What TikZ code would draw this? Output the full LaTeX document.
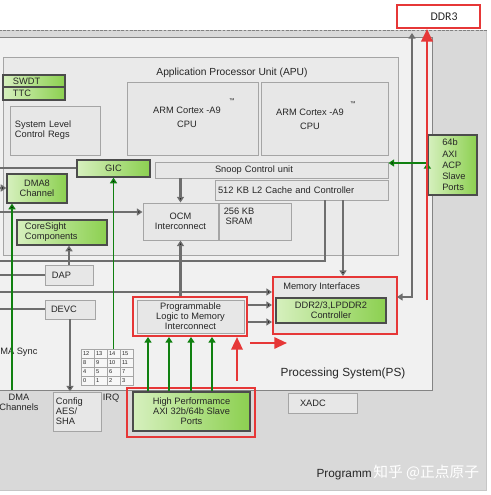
\documentclass[tikz,border=0pt]{standalone}
\usepackage{fontspec}
\setmainfont{Liberation Sans}
\newfontfamily\calfont{Carlito}
\newfontfamily\cjkfont{Noto Sans CJK SC}
\usetikzlibrary{arrows.meta, shadows}

\definecolor{plgray}{RGB}{217,217,217}
\definecolor{psgray}{RGB}{241,241,241}
\definecolor{apugray}{RGB}{234,234,234}
\definecolor{boxgray}{RGB}{231,231,231}
\definecolor{edgegray}{RGB}{165,165,165}
\definecolor{wiregray}{RGB}{110,110,110}
\definecolor{lightgreen}{RGB}{214,240,190}
\definecolor{midgreen}{RGB}{140,208,80}
\definecolor{wiregreen}{RGB}{16,128,16}
\definecolor{hired}{RGB}{230,55,55}

\begin{document}
\begin{tikzpicture}[
    x=0.025cm, y=-0.025cm,
    font=\fontsize{6.6}{7}\selectfont,
    every node/.style={inner sep=0pt, text=black!85},
    >={Triangle[length=4pt, width=5pt]},
    boxsize/.style 2 args={minimum width=#1*0.025cm, minimum height=#2*0.025cm},
    textindent/.style 2 args={text width=#1*0.025cm, inner xsep=#2*0.025cm, align=left},
    graybox/.style={draw=edgegray, fill=boxgray, line width=0.7pt,
        drop shadow={shadow xshift=0.7pt, shadow yshift=-0.7pt, opacity=0.3, fill=black!60}},
    greenbox/.style={draw=black!70, left color=lightgreen, right color=midgreen, line width=0.9pt},
    redframe/.style={draw=hired, line width=1.4pt},
    irqcell/.style={draw=edgegray, fill=white!94!gray, line width=0.4pt, boxsize={13}{9},
        textindent={9}{2}, font=\fontsize{4}{4}\selectfont},
    wire/.style={draw=wiregray, line width=1.5pt},
    gwire/.style={draw=wiregreen, line width=1.4pt},
    redarrow/.style={draw=hired, line width=#1, -{Triangle[length=9pt, width=8pt]}},
]

\useasboundingbox (0,0) rectangle (491,495);
\clip (0,0) rectangle (491,495);
\fill[white] (0,0) rectangle (491,495);

\node[draw=gray!45, fill=plgray, boxsize={487}{460}, anchor=north west] (pl) at (-1,30) {};
\draw[gray, dash pattern=on 2pt off 1pt] (pl.north west) -- (pl.north east);
\node[draw=edgegray!80!black, fill=psgray, line width=0.8pt, boxsize={436}{353}, anchor=north west] (ps) at (-4,37) {};
\node[draw=edgegray, fill=apugray, line width=0.7pt, boxsize={395}{198}, anchor=north west] (apu) at (3,57) {};

\node (aputitle) at (232,73) {\fontsize{7.3}{8}\selectfont Application Processor Unit (APU)};
\node (pstitle) at (343,373) {\fontsize{8.4}{9}\selectfont Processing System(PS)};
\node[anchor=east] (pltitle) at (372,475) {\fontsize{8.4}{9}\selectfont Programm};
\node[draw=hired, line width=1.3pt, fill=white, boxsize={83}{23}] (ddr3) at (438.5,16.5) {\calfont\fontsize{8.4}{9}\selectfont\hspace{8pt}DDR3};

\node[greenbox, boxsize={62}{12}, textindent={42}{10}] (swdt) at (34,81) {SWDT};
\node[greenbox, boxsize={62}{13}, textindent={42}{10}] (ttc) at (34,93.5) {TTC};
\node[graybox, boxsize={90}{49}, textindent={80}{5}] (slcr) at (55,130.5) {System Level\\Control Regs};
\node[graybox, boxsize={131}{73}] (cpu0) at (192.5,118.5) {};
\node[graybox, boxsize={127}{73}] (cpu1) at (324.5,118.5) {};
\node[align=center, font=\fontsize{6.6}{10}\selectfont] (cpu0txt) at (187,117) {ARM Cortex -A9\\CPU};
\node[font=\fontsize{4}{4}\selectfont] (tm0) at (232,101) {™};
\node[align=center, font=\fontsize{6.6}{10}\selectfont] (cpu1txt) at (310,119) {ARM Cortex -A9\\CPU};
\node[font=\fontsize{4}{4}\selectfont] (tm1) at (353,104) {™};
\node[greenbox, boxsize={73}{17}] (gic) at (113.5,168.5) {GIC};
\node[graybox, boxsize={233}{16}, textindent={113}{60}] (scu) at (271.5,170) {Snoop Control unit};
\node[graybox, boxsize={173}{20}, textindent={167}{3}] (l2) at (301.5,190) {512 KB L2 Cache and Controller};
\node[graybox, boxsize={75}{37}, align=center] (ocm) at (180.5,221.5) {OCM\\Interconnect};
\node[graybox, boxsize={72}{37}] (sram) at (255,221.5) {};
\node[align=center] (sramtxt) at (239,216) {256 KB\\SRAM};
\node[greenbox, boxsize={60}{29}, align=center] (dma8) at (37,188.5) {DMA8\\Channel};
\node[greenbox, boxsize={90}{25}, textindent={74}{8}] (coresight) at (62,232.5) {CoreSight\\Components};
\node[graybox, boxsize={48}{20}, textindent={34}{7}] (dap) at (69,275) {DAP};
\node[graybox, boxsize={50}{19}, textindent={38}{6}] (devc) at (70,309.5) {DEVC};
\node[graybox, boxsize={48}{39}, textindent={42}{3}] (config) at (77,411.5) {Config\\AES/\\SHA};
\node[redframe, boxsize={128}{49}] (hpframe) at (191,412.5) {};
\node[greenbox, boxsize={117}{39}, align=center] (hp) at (191.5,411.5) {High Performamce\\AXI 32b/64b Slave\\Ports};
\node[redframe, fill=psgray, boxsize={114}{39}] (pl2memf) at (190,316.5) {};
\node[graybox, boxsize={107}{33}, align=center] (pl2mem) at (190.5,316.5) {Programmable\\Logic to Memory\\Interconnect};
\node[redframe, fill=boxgray, boxsize={124}{57}] (memif) at (335,305.5) {};
\node[anchor=west] (memiftxt) at (283,287) {Memory Interfaces};
\node[greenbox, boxsize={110}{25}, align=center] (ddrc) at (331,310.5) {DDR2/3,LPDDR2\\Controller};
\node[greenbox, boxsize={49}{60}] (acp) at (452.5,165) {};
\node[anchor=west, align=left, font=\fontsize{6.6}{8}\selectfont] (acptxt) at (442,165) {64b\\AXI\\ACP\\Slave\\Ports};
\node[graybox, boxsize={69}{20}, textindent={45}{12}] (xadc) at (322.5,403) {XADC};

\node[anchor=west] (dmasync) at (0,352) {MA Sync};
\node[align=center] (dmach) at (19,402) {DMA\\Channels};
\node (irqtxt) at (111,398) {IRQ};

\foreach \n in {0,...,15} {
    \pgfmathtruncatemacro{\cc}{mod(\n,4)}
    \pgfmathtruncatemacro{\rr}{3-div(\n,4)}
    \node[irqcell] (irq\n) at ({87.5+13*\cc}, {353.5+9*\rr}) {\n};
}

\coordinate (gicin) at (0,168);
\coordinate (dmain) at (0,188);
\coordinate (ocmin) at (0,212);
\coordinate (cibus) at (0,261);
\coordinate (dapin) at (0,275);
\coordinate (membus) at (0,292);
\coordinate (devcin) at (0,309);
\coordinate (l2left) at (325,200);
\coordinate (l2right) at (343,200);
\coordinate (ddrbus) at (412,33);
\coordinate (memright) at (397,297);
\coordinate (dmasrc) at (12,390);

\path[wire]
    (gicin) edge (gicin -| gic.west)
    (dmain) edge[->] (dmain -| dma8.west)
    (ocmin) edge[->] (ocmin -| ocm.west)
    (ocm.north |- scu.south) edge[->] (ocm.north)
    (dapin) edge (dapin -| dap.west)
    (dap.north) edge[->] (dap.north |- coresight.south)
    (membus) edge[->] (membus -| memif.west)
    (devcin) edge (devcin -| devc.west)
    (devc.south) edge[->] (devc.south |- config.north)
    (pl2memf.north -| ocm.south) edge[->] (ocm.south)
    (l2right) edge[->] (l2right |- memif.north)
    (pl2memf.east |- 0,305) edge[->] (memif.west |- 0,305)
    (pl2memf.east |- 0,322) edge[->] (memif.west |- 0,322)
;
\draw[wire] (cibus) -| (l2left);
\draw[wire, <->] (memright) -| (ddrbus);

\path[gwire, ->]
    (dmasrc) edge (dmasrc |- dma8.south)
    (irq14.north) edge (irq14.north |- gic.south)
    (acp.west |- 0,163) edge (scu.east |- 0,163)
;
\foreach \hx in {148,169,191,212}
    \draw[gwire, ->] (hp.north -| \hx,0) -- (pl2memf.south -| \hx,0);

\coordinate (redsrc) at (427,300);
\coordinate (redup) at (237,381);
\coordinate (redfrom) at (250,343);
\coordinate (redto) at (287,343);
\draw[redarrow=2pt] (redsrc) -- (redsrc |- ddr3.south);
\draw[redarrow=1.8pt] (redup) -- (redup |- pl2memf.south);
\draw[redarrow=1.5pt] (redfrom) -- (redto);

\node[anchor=west, text=white] (mark) at (373,473) {\cjkfont\fontsize{10.5}{11}\selectfont 知乎 @正点原子};
\end{tikzpicture}
\end{document}
